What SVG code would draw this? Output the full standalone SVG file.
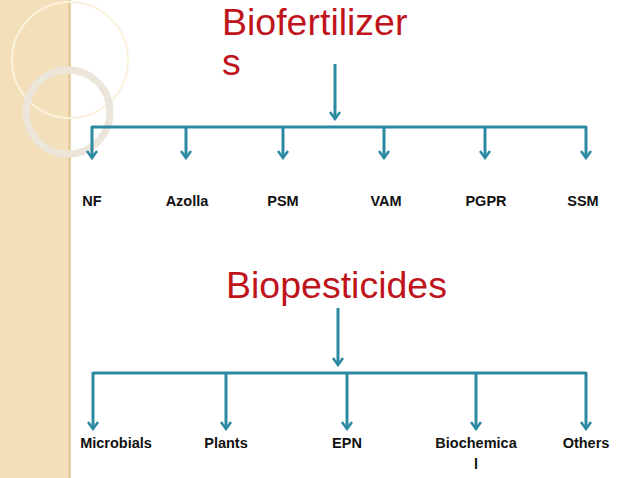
<svg xmlns="http://www.w3.org/2000/svg" width="638" height="478" viewBox="0 0 638 478">
<defs>
<style>
.c{stroke:#2b8aa0;stroke-width:3;fill:none}
.t{font-family:"Liberation Sans",Arial,sans-serif;font-size:37.5px;fill:#c0141c}
.l{font-family:"Liberation Sans",Arial,sans-serif;font-size:14.5px;font-weight:bold;fill:#111;text-anchor:middle}
</style>
<marker id="a" viewBox="0 0 12 12" refX="10" refY="6" markerWidth="12" markerHeight="12" markerUnits="userSpaceOnUse" orient="auto">
<path d="M3,1 L10,6 L3,11" fill="none" stroke="#2b8aa0" stroke-width="2.5"/>
</marker>
</defs>
<rect width="638" height="478" fill="#fff"/>
<g id="bg">
<rect width="70" height="478" fill="#f3dfb9"/>
<rect x="68" width="3" height="478" fill="#e6cfa3"/>
<circle cx="70" cy="60" r="58" fill="none" stroke="#fbf2dc" stroke-width="2"/>
<circle cx="68" cy="112" r="42" fill="none" stroke="#ebe5da" stroke-width="7"/>
</g>
<g id="title1"><text class="t" x="222" y="35">Biofertilizer</text><text class="t" x="222" y="75">s</text></g>
<g id="title2"><text class="t" x="226" y="298">Biopesticides</text></g>
<g id="connectors">
<line x1="335" y1="64" x2="335" y2="119" class="c" marker-end="url(#a)"/>
<line x1="92" y1="127" x2="586" y2="127" class="c"/>
<line x1="92" y1="126" x2="92" y2="158" class="c" marker-end="url(#a)"/>
<line x1="186" y1="127" x2="186" y2="158" class="c" marker-end="url(#a)"/>
<line x1="283" y1="127" x2="283" y2="158" class="c" marker-end="url(#a)"/>
<line x1="384" y1="127" x2="384" y2="158" class="c" marker-end="url(#a)"/>
<line x1="485" y1="127" x2="485" y2="158" class="c" marker-end="url(#a)"/>
<line x1="586" y1="126" x2="586" y2="158" class="c" marker-end="url(#a)"/>
<line x1="338" y1="308" x2="338" y2="365" class="c" marker-end="url(#a)"/>
<line x1="93" y1="373" x2="586" y2="373" class="c"/>
<line x1="93" y1="372" x2="93" y2="429" class="c" marker-end="url(#a)"/>
<line x1="226" y1="373" x2="226" y2="429" class="c" marker-end="url(#a)"/>
<line x1="347" y1="373" x2="347" y2="429" class="c" marker-end="url(#a)"/>
<line x1="476" y1="373" x2="476" y2="429" class="c" marker-end="url(#a)"/>
<line x1="586" y1="372" x2="586" y2="429" class="c" marker-end="url(#a)"/>
</g>
<g id="n-nf"><text class="l" x="92" y="206">NF</text></g>
<g id="n-azolla"><text class="l" x="187" y="206">Azolla</text></g>
<g id="n-psm"><text class="l" x="283" y="206">PSM</text></g>
<g id="n-vam"><text class="l" x="386" y="206">VAM</text></g>
<g id="n-pgpr"><text class="l" x="486" y="206">PGPR</text></g>
<g id="n-ssm"><text class="l" x="583" y="206">SSM</text></g>
<g id="n-microbials"><text class="l" x="116" y="448">Microbials</text></g>
<g id="n-plants"><text class="l" x="226" y="448">Plants</text></g>
<g id="n-epn"><text class="l" x="347" y="448">EPN</text></g>
<g id="n-bio"><text class="l" x="476" y="448">Biochemica</text><text class="l" x="476" y="469">l</text></g>
<g id="n-others"><text class="l" x="586" y="448">Others</text></g>
</svg>
